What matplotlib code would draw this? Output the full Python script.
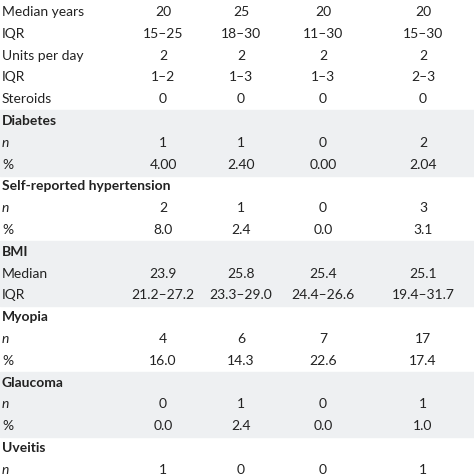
import matplotlib.pyplot as plt
from matplotlib.patches import Rectangle

plt.rcParams['font.family'] = ['Lato', 'DejaVu Sans']

# rows: (label, values, kind) kind: 'row', 'head', 'italic'
labels = ["Median years", "IQR", "Units per day", "IQR", "Steroids",
          "Diabetes", "n", "%",
          "Self-reported hypertension", "n", "%",
          "BMI", "Median", "IQR",
          "Myopia", "n", "%",
          "Glaucoma", "n", "%",
          "Uveitis", "n"]
values = [["20", "25", "20", "20"], ["15–25", "18–30", "11–30", "15–30"],
          ["2", "2", "2", "2"], ["1–2", "1–3", "1–3", "2–3"], ["0", "0", "0", "0"],
          None, ["1", "1", "0", "2"], ["4.00", "2.40", "0.00", "2.04"],
          None, ["2", "1", "0", "3"], ["8.0", "2.4", "0.0", "3.1"],
          None, ["23.9", "25.8", "25.4", "25.1"],
          ["21.2–27.2", "23.3–29.0", "24.4–26.6", "19.4–31.7"],
          None, ["4", "6", "7", "17"], ["16.0", "14.3", "22.6", "17.4"],
          None, ["0", "1", "0", "1"], ["0.0", "2.4", "0.0", "1.0"],
          None, ["1", "0", "0", "1"]]
shaded = ["Diabetes", "BMI", "Glaucoma"]

col_x = [163, 241, 323, 423]
row_y0, row_dy = 12, 21.8

fig = plt.figure(figsize=(4.74, 4.74), dpi=100)
ax = fig.add_axes([0, 0, 1, 1])
ax.set_xlim(0, 474)
ax.set_ylim(474, 0)
ax.axis('off')

ys = [row_y0 + i * row_dy for i in range(len(labels))]
for i, lab in enumerate(labels):
    if lab in shaded:
        n = 3
        top = ys[i] - row_dy / 2
        ax.add_patch(Rectangle((0, top), 474, n * row_dy, color='#eef0f2', zorder=0))

for lab, vals, y in zip(labels, values, ys):
    if vals is None:
        ax.text(2, y, lab, fontsize=10, fontweight='bold', va='center', color='#222222')
    else:
        style = 'italic' if lab == 'n' else 'normal'
        ax.text(2, y, lab, fontsize=10, style=style, va='center', color='#222222')
        for x, v in zip(col_x, vals):
            ax.text(x, y, v, fontsize=10, ha='center', va='center', color='#222222')

fig.savefig("out.png", dpi=100)
